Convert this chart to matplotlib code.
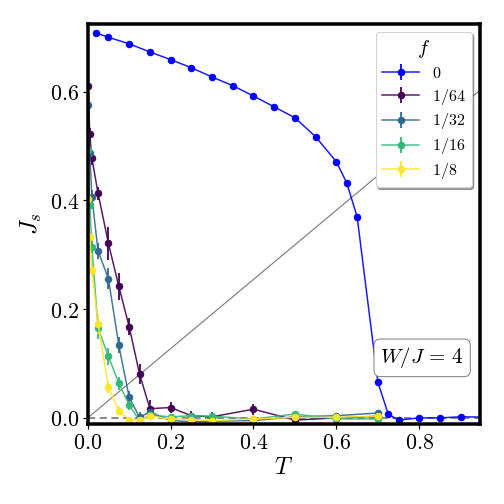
import matplotlib
matplotlib.use("Agg")
import matplotlib.pyplot as plt
import numpy as np
from matplotlib.ticker import FuncFormatter, MultipleLocator
from matplotlib.colors import to_rgba

plt.rcParams['mathtext.fontset'] = 'cm'
plt.rcParams['font.family'] = ['DejaVu Serif']

# ---- data ----
T_clean = [0.02, 0.05, 0.1, 0.15, 0.2, 0.25, 0.3, 0.35, 0.4, 0.45, 0.5, 0.55,
           0.6, 0.625, 0.65, 0.7, 0.725, 0.75, 0.8, 0.85, 0.9, 1.0]
Js_clean = [0.708, 0.700, 0.688, 0.673, 0.659, 0.644, 0.627, 0.611, 0.592, 0.572,
            0.552, 0.517, 0.471, 0.432, 0.370, 0.066, 0.007, -0.004, 0.0, 0.0,
            0.002, 0.001]
err_clean = [0.002] * len(T_clean)

T_dis = [0.001, 0.005, 0.01, 0.025, 0.05, 0.075, 0.1, 0.125, 0.15, 0.2, 0.25,
         0.3, 0.4, 0.5, 0.6, 0.7]
Js_64 = [0.610, 0.522, 0.478, 0.413, 0.321, 0.242, 0.168, 0.081, 0.017, 0.019,
         0.004, 0.002, 0.016, -0.004, 0.0, 0.003]
err_64 = [0.010, 0.012, 0.012, 0.012, 0.030, 0.025, 0.016, 0.018, 0.015, 0.010,
          0.008, 0.008, 0.010, 0.005, 0.005, 0.005]
Js_32 = [0.576, 0.487, 0.407, 0.307, 0.256, 0.134, 0.038, 0.001, 0.011, -0.005,
         -0.007, -0.006, -0.005, 0.002, 0.004, 0.009]
err_32 = [0.008, 0.010, 0.012, 0.014, 0.019, 0.015, 0.012, 0.010, 0.014, 0.006,
          0.006, 0.005, 0.005, 0.004, 0.004, 0.004]
Js_16 = [0.492, 0.392, 0.315, 0.165, 0.113, 0.064, 0.024, -0.005, 0.005, 0.002,
         0.004, 0.003, -0.002, 0.007, -0.002, -0.002]
err_16 = [0.010, 0.010, 0.012, 0.020, 0.015, 0.012, 0.010, 0.006, 0.005, 0.004,
          0.005, 0.005, 0.004, 0.004, 0.004, 0.004]
Js_8 = [0.402, 0.332, 0.272, 0.173, 0.056, 0.013, -0.003, -0.004, 0.003, -0.002,
        -0.003, -0.005, -0.002, 0.001, 0.001, 0.003]
err_8 = [0.010, 0.012, 0.012, 0.018, 0.010, 0.008, 0.004, 0.003, 0.003, 0.003,
         0.003, 0.003, 0.003, 0.003, 0.003, 0.003]

labels = ['$0$', '$1/64$', '$1/32$', '$1/16$', '$1/8$']
colors = ['#0000ff', '#440154', '#31688e', '#35b779', '#fde725']

series = [(T_clean, Js_clean, err_clean),
          (T_dis, Js_64, err_64),
          (T_dis, Js_32, err_32),
          (T_dis, Js_16, err_16),
          (T_dis, Js_8, err_8)]

# ---- figure ----
fig = plt.figure(figsize=(7, 7), dpi=72)
ax = fig.add_axes([0.174, 0.159, 0.778, 0.794])

Tline = np.array([0.0, 1.0])
ax.plot(Tline, 2 * Tline / np.pi, color='gray', lw=1.2, zorder=1)
ax.axhline(0.0, color='gray', ls='--', lw=1.8, dashes=(4, 2.5), zorder=1)

for (x, y, e), lab, c in zip(series, labels, colors):
    lc = to_rgba(c, 0.9)
    ax.errorbar(x, y, yerr=e, fmt='-o', color=lc, ecolor=lc,
                mfc=c, mec=c, ms=6.5, lw=1.5, elinewidth=2.0, label=lab,
                zorder=2)

ax.set_xlim(0.0, 0.946)
ax.set_ylim(-0.011, 0.725)
ax.xaxis.set_major_locator(MultipleLocator(0.2))
ax.yaxis.set_major_locator(MultipleLocator(0.2))
fmt = FuncFormatter(lambda v, p: '$%.1f$' % v)
ax.xaxis.set_major_formatter(fmt)
ax.yaxis.set_major_formatter(fmt)
ax.tick_params(axis='both', which='major', labelsize=22, length=5, width=1.2,
               direction='out')
for s in ax.spines.values():
    s.set_linewidth(3.5)

ax.set_xlabel('$T$', fontsize=24, labelpad=2)
ax.set_ylabel('$J_s$', fontsize=24, labelpad=6)

leg = ax.legend(title='$f$', loc='upper right', fontsize=16,
                title_fontsize=20, shadow=True, fancybox=True,
                framealpha=1.0, edgecolor='lightgray', handlelength=2.3,
                borderpad=0.4, labelspacing=0.3)

ax.text(0.853, 0.165, r'$W/J\,=\,4$', transform=ax.transAxes, fontsize=21,
        ha='center', va='center',
        bbox=dict(boxstyle='round,pad=0.3', fc='white', ec='gray', lw=1.0))

fig.savefig('out.png', dpi=72)
